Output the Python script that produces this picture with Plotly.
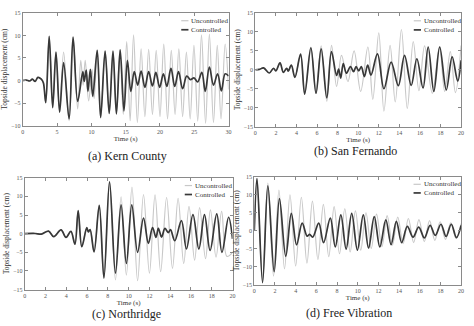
import plotly.graph_objects as go

# ---------------- (a) Kern County ----------------
kc_ctrl_t = [0, 0.5, 1.0, 1.4, 1.8, 2.2, 2.7, 3.0, 3.35, 3.85, 4.36, 4.84, 5.37, 5.95, 6.75, 7.33,
             8.0, 8.75, 8.95, 9.25, 9.5, 9.85, 10.2, 10.85, 11.35, 12.0, 12.6, 13.15, 13.65, 14.2,
             14.75, 15.25, 15.75, 16.25, 16.75, 17.25, 17.8, 18.35, 18.9, 19.4, 19.95, 20.5, 21.0,
             21.6, 22.15, 22.7, 23.3, 23.9, 24.45, 24.95, 25.5, 26.1, 26.6, 27.2, 27.8, 28.4, 28.95,
             29.5, 30.0]
kc_ctrl_y = [0, 0.1, -0.1, 0.3, -0.2, 0.7, 0.3, -0.5, -4.9, 9.8, -6.0, 6.3, -7.0, 4.0, -8.5, 9.6,
             -4.6, 2.0, -0.2, 2.3, -2.4, 2.5, -3.5, 6.7, -8.2, 6.5, -7.3, 6.5, -7.4, 6.8,
             -6.7, 4.5, -2.4, 2.0, -1.0, 2.1, -1.5, 2.0, -1.2, 1.8, -1.5, 1.5, -1.3,
             2.7, -1.3, 2.0, -1.8, 1.0, 0.2, 0.6, -0.3, 1.8, -2.4, 3.0, -1.0, 1.5, -2.3,
             1.5, 1.0]
kc_unc_t = [0, 0.5, 1.0, 1.4, 1.8, 2.2, 2.7, 3.0, 3.35, 3.85, 4.36, 4.84, 5.37, 5.95, 6.75, 7.33,
            8.0, 8.45, 8.8, 9.1, 9.6, 10.1, 10.4, 10.85, 11.35, 12.0, 12.6, 13.15, 13.65, 14.15,
            14.65, 15.15, 15.65, 16.15, 16.7, 17.25, 17.8, 18.35, 18.9, 19.45, 20.0, 20.55, 21.1,
            21.65, 22.2, 22.75, 23.3, 23.85, 24.4, 24.95, 25.5, 26.05, 26.65, 27.2, 27.8, 28.35,
            28.9, 29.5, 30.0]
kc_unc_y = [0, 0.1, -0.1, 0.3, -0.2, 0.7, 0.3, -0.5, -4.9, 9.8, -6.0, 6.3, -7.0, 6.3, -8.9, 9.6,
            -6.3, 4.5, -1.0, 4.5, -4.5, 2.5, -4.0, 6.7, -8.2, 6.5, -7.3, 6.5, -7.4, 6.8,
            -7.5, 8.6, -8.9, 10.1, -9.3, 7.0, -8.0, 6.9, -7.5, 6.7, -8.0, 8.1, -8.5,
            6.7, -7.5, 7.0, -8.0, 6.3, -8.5, 7.8, -9.0, 10.1, -9.5, 10.3, -9.3, 7.8,
            -8.5, 8.1, -2.0]

# ---------------- (b) San Fernando ----------------
sf_ctrl_t = [0, 0.4, 0.8, 1.36, 1.77, 2.0, 2.4, 2.73, 3.05, 3.2, 3.5, 3.85, 4.4, 4.8, 5.4, 5.9,
             6.4, 6.95, 7.4, 7.9, 8.1, 8.3, 8.55, 8.85, 9.25, 9.55, 9.8, 10.05, 10.3, 10.6, 10.92,
             11.24, 11.87, 12.5, 13.2, 13.9, 14.5, 15.15, 15.7, 16.3, 16.8, 17.35, 17.92, 18.56,
             19.13, 19.67, 20.0]
sf_ctrl_y = [0, 0.1, 0.5, -0.85, 0.4, -0.3, 1.8, -0.7, 0.4, -0.4, 1.2, -2.0, 4.1, -6.4, 5.8, -6.2,
             5.5, -7.4, 4.8, -1.5, 0.2, -2.2, 1.6, -0.9, 0.8, -0.5, 0.8, -0.3, 0.8, -1.8, 1.2,
             -1.4, 4.2, -5.0, 2.0, -4.2, 3.8, -4.1, 2.9, -4.8, 6.0, -5.7, 6.0, -5.3,
             3.4, -3.0, 2.5]
sf_unc_t = [0, 0.4, 0.8, 1.36, 1.77, 2.0, 2.4, 2.73, 3.05, 3.2, 3.5, 3.85, 4.4, 4.8, 5.4, 5.9,
            6.4, 6.95, 7.41, 7.9, 8.38, 9.0, 9.6, 10.24, 10.94, 11.42, 12.0, 12.5, 13.1, 13.6,
            14.2, 14.77, 15.35, 15.9, 16.45, 17.2, 17.9, 18.4, 18.95, 19.45, 20.0]
sf_unc_y = [0, 0.1, 0.5, -0.85, 0.4, -0.3, 1.8, -0.7, 0.4, -0.4, 1.2, -2.0, 4.1, -6.4, 6.0, -6.2,
            6.3, -8.3, 6.4, -4.4, 3.8, -3.1, 5.0, -5.7, 6.0, -7.8, 9.7, -10.9, 6.4, -8.5,
            10.6, -10.2, 7.4, -5.5, 6.3, -6.2, 6.0, -5.7, 4.8, -6.0, 6.4]

# ---------------- (c) Northridge ----------------
nr_ctrl_t = [0, 1.0, 1.6, 2.29, 2.79, 3.49, 3.97, 4.44, 4.83, 5.14, 5.49, 5.97, 6.12, 6.29, 6.67,
             7.17, 7.62, 8.16, 8.73, 9.27, 9.78, 10.3, 10.86, 11.43, 11.9, 12.3, 12.63, 12.86,
             13.17, 13.49, 13.81, 14.03, 14.44, 15.08, 15.56, 16.19, 16.76, 17.3, 17.84, 18.48,
             18.98, 19.62, 20.0]
nr_ctrl_y = [0, 0.05, -0.1, 0.7, -0.8, 1.0, -1.0, 0.6, -2.8, 6.2, -3.5, 1.6, 0.5, 1.1, -4.9,
             7.6, -11.9, 13.9, -10.6, 7.7, -8.0, 7.7, -5.0, 4.2, -2.6, 1.6, -1.0, 1.4,
             -0.9, 1.4, 0.3, 1.1, -1.9, 3.5, -4.1, 5.1, -4.1, 5.1, -4.5, 5.3,
             -5.0, 4.4, -1.4]
nr_unc_t = [0, 1.0, 1.6, 2.29, 2.79, 3.49, 3.97, 4.44, 4.83, 5.14, 5.49, 5.97, 6.12, 6.29, 6.67,
            7.17, 7.62, 8.16, 8.73, 9.27, 9.78, 10.32, 10.86, 11.43, 12.0, 12.54, 13.08, 13.65,
            14.22, 14.76, 15.3, 15.81, 16.35, 16.83, 17.4, 17.87, 18.41, 18.95, 19.46, 20.0]
nr_unc_y = [0, 0.05, -0.1, 0.7, -0.8, 1.0, -1.0, 0.6, -2.8, 6.2, -3.5, 1.6, 0.5, 1.1, -4.9,
            7.6, -11.9, 13.9, -12.4, 9.9, -11.1, 12.5, -12.6, 10.5, -10.6, 10.4, -10.2, 9.7,
            -9.3, 9.5, -8.0, 7.3, -7.1, 7.0, -6.7, 6.4, -6.3, 6.0, -6.1, -5.0]

# ---------------- (d) Free Vibration ----------------
fv_ctrl_t = [0, 0.26, 0.8, 1.31, 1.92, 2.43, 3.04, 3.58, 4.09, 4.63, 5.11, 5.35, 5.65, 6.23, 6.7,
             7.35, 7.83, 8.37, 8.88, 9.42, 9.97, 10.54, 11.05, 11.6, 12.14, 12.72, 13.23, 13.74,
             14.25, 14.8, 15.35, 15.9, 16.45, 17.0, 17.5, 18.05, 18.55, 19.05, 19.55, 20.0]
fv_ctrl_y = [0, 14.5, -14.4, 12.5, -11.4, 8.9, -7.1, 4.8, -3.9, 2.1, -1.5, -1.0, -1.8, 2.1, -3.3,
             3.5, -4.5, 4.4, -5.1, 4.8, -5.4, 4.4, -4.8, 3.9, -4.5, 3.0, -3.9, 2.6,
             -3.3, 1.2, -1.8, 1.0, -2.0, 1.5, -1.3, 1.8, -1.6, 1.8, -1.9, 1.5]
fv_unc_t = [0, 0.26, 0.8, 1.31, 1.86, 2.38, 2.92, 3.45, 4.0, 4.55, 5.09, 5.62, 6.15, 6.68, 7.2,
            7.72, 8.24, 8.75, 9.27, 9.78, 10.29, 10.8, 11.31, 11.82, 12.34, 12.85, 13.36, 13.87,
            14.39, 14.9, 15.41, 15.92, 16.44, 16.95, 17.46, 17.97, 18.49, 19.0, 19.51, 20.0]
fv_unc_y = [0, 14.5, -14.0, 13.2, -12.6, 11.3, -10.6, 10.0, -9.8, 9.3, -9.0, 8.2, -8.0, 7.3, -7.2,
            6.7, -6.4, 6.1, -5.9, 5.5, -5.4, 5.0, -4.9, 4.6, -4.4, 4.2, -4.0, 3.8,
            -3.6, 3.4, -3.3, 3.1, -3.0, 2.8, -2.7, 2.5, -2.4, 2.2, -2.1, 2.0]

panels = [
    dict(name="(a) Kern County", ct=kc_ctrl_t, cy=kc_ctrl_y, ut=kc_unc_t, uy=kc_unc_y,
         xr=[0, 30], xt=list(range(0, 31, 5)), yr=[-10, 15], yt=list(range(-10, 16, 5)),
         xd=[21/474, 229/474], yd=[1-125/326, 1-10/326], cap=(127/474, 1-156/326)),
    dict(name="(b) San Fernando", ct=sf_ctrl_t, cy=sf_ctrl_y, ut=sf_unc_t, uy=sf_unc_y,
         xr=[0, 20], xt=list(range(0, 21, 2)), yr=[-15, 15], yt=list(range(-15, 16, 5)),
         xd=[256/474, 464/474], yd=[1-126/326, 1-10/326], cap=(357/474, 1-151/326)),
    dict(name="(c) Northridge", ct=nr_ctrl_t, cy=nr_ctrl_y, ut=nr_unc_t, uy=nr_unc_y,
         xr=[0, 20], xt=list(range(0, 21, 2)), yr=[-15, 15], yt=list(range(-15, 16, 5)),
         xd=[23/474, 233/474], yd=[1-292/326, 1-178/326], cap=(126/474, 1-317/326)),
    dict(name="(d) Free Vibration", ct=fv_ctrl_t, cy=fv_ctrl_y, ut=fv_unc_t, uy=fv_unc_y,
         xr=[0, 20], xt=list(range(0, 21, 2)), yr=[-15, 15], yt=list(range(-15, 16, 5)),
         xd=[255/474, 464/474], yd=[1-287/326, 1-177/326], cap=(351/474, 1-316/326)),
]

SERIF = "Liberation Serif, Times New Roman, serif"
UNC_COLOR = "#c8c8c8"
CTRL_COLOR = "#383838"

fig = go.Figure()
layout = dict(
    width=474, height=326, autosize=False,
    margin=dict(l=0, r=0, t=0, b=0),
    paper_bgcolor="white", plot_bgcolor="white",
    showlegend=False,
    font=dict(family=SERIF, color="#333"),
    annotations=[], shapes=[],
)

for i, p in enumerate(panels):
    n = "" if i == 0 else str(i + 1)
    xa, ya = "x" + n, "y" + n
    fig.add_trace(go.Scatter(x=p["ut"], y=p["uy"], mode="lines", name="Uncontrolled",
                             line=dict(color=UNC_COLOR, width=1.2, shape="spline", smoothing=1.0),
                             xaxis=xa, yaxis=ya))
    fig.add_trace(go.Scatter(x=p["ct"], y=p["cy"], mode="lines", name="Controlled",
                             line=dict(color=CTRL_COLOR, width=1.7, shape="spline", smoothing=1.0),
                             xaxis=xa, yaxis=ya))
    axstyle = dict(showline=True, mirror="ticks", linecolor="#8a8a8a", linewidth=1,
                   ticks="inside", ticklen=3, tickcolor="#8a8a8a", tickwidth=1,
                   showgrid=False, zeroline=False,
                   tickfont=dict(family=SERIF, size=6, color="#555"))
    layout["xaxis" + n] = dict(axstyle, domain=p["xd"], range=p["xr"], tickvals=p["xt"],
                               anchor=ya,
                               title=dict(text="Time (s)", font=dict(family=SERIF, size=7, color="#333"),
                                          standoff=1))
    layout["yaxis" + n] = dict(axstyle, domain=p["yd"], range=p["yr"], tickvals=p["yt"],
                               anchor=xa,
                               title=dict(text="Topside displacement (cm)",
                                          font=dict(family=SERIF, size=7.5, color="#333"),
                                          standoff=2))
    # caption
    layout["annotations"].append(dict(text=p["name"], x=p["cap"][0], y=p["cap"][1],
                                      xref="paper", yref="paper", showarrow=False,
                                      xanchor="center", yanchor="middle",
                                      font=dict(family=SERIF, size=12, color="#222")))
    # legend (compact, inside top-right)
    for lab, col, wid, yy in [("Uncontrolled", UNC_COLOR, 1.2, 0.93), ("Controlled", CTRL_COLOR, 1.7, 0.85)]:
        layout["shapes"].append(dict(type="line", xref=xa + " domain", yref=ya + " domain",
                                     x0=0.77, x1=0.805, y0=yy, y1=yy,
                                     line=dict(color=col, width=wid)))
        layout["annotations"].append(dict(text=lab, x=0.81, y=yy, xref=xa + " domain",
                                          yref=ya + " domain", showarrow=False,
                                          xanchor="left", yanchor="middle",
                                          font=dict(family=SERIF, size=7, color="#333")))

fig.update_layout(**layout)
fig.write_html("out.html")
